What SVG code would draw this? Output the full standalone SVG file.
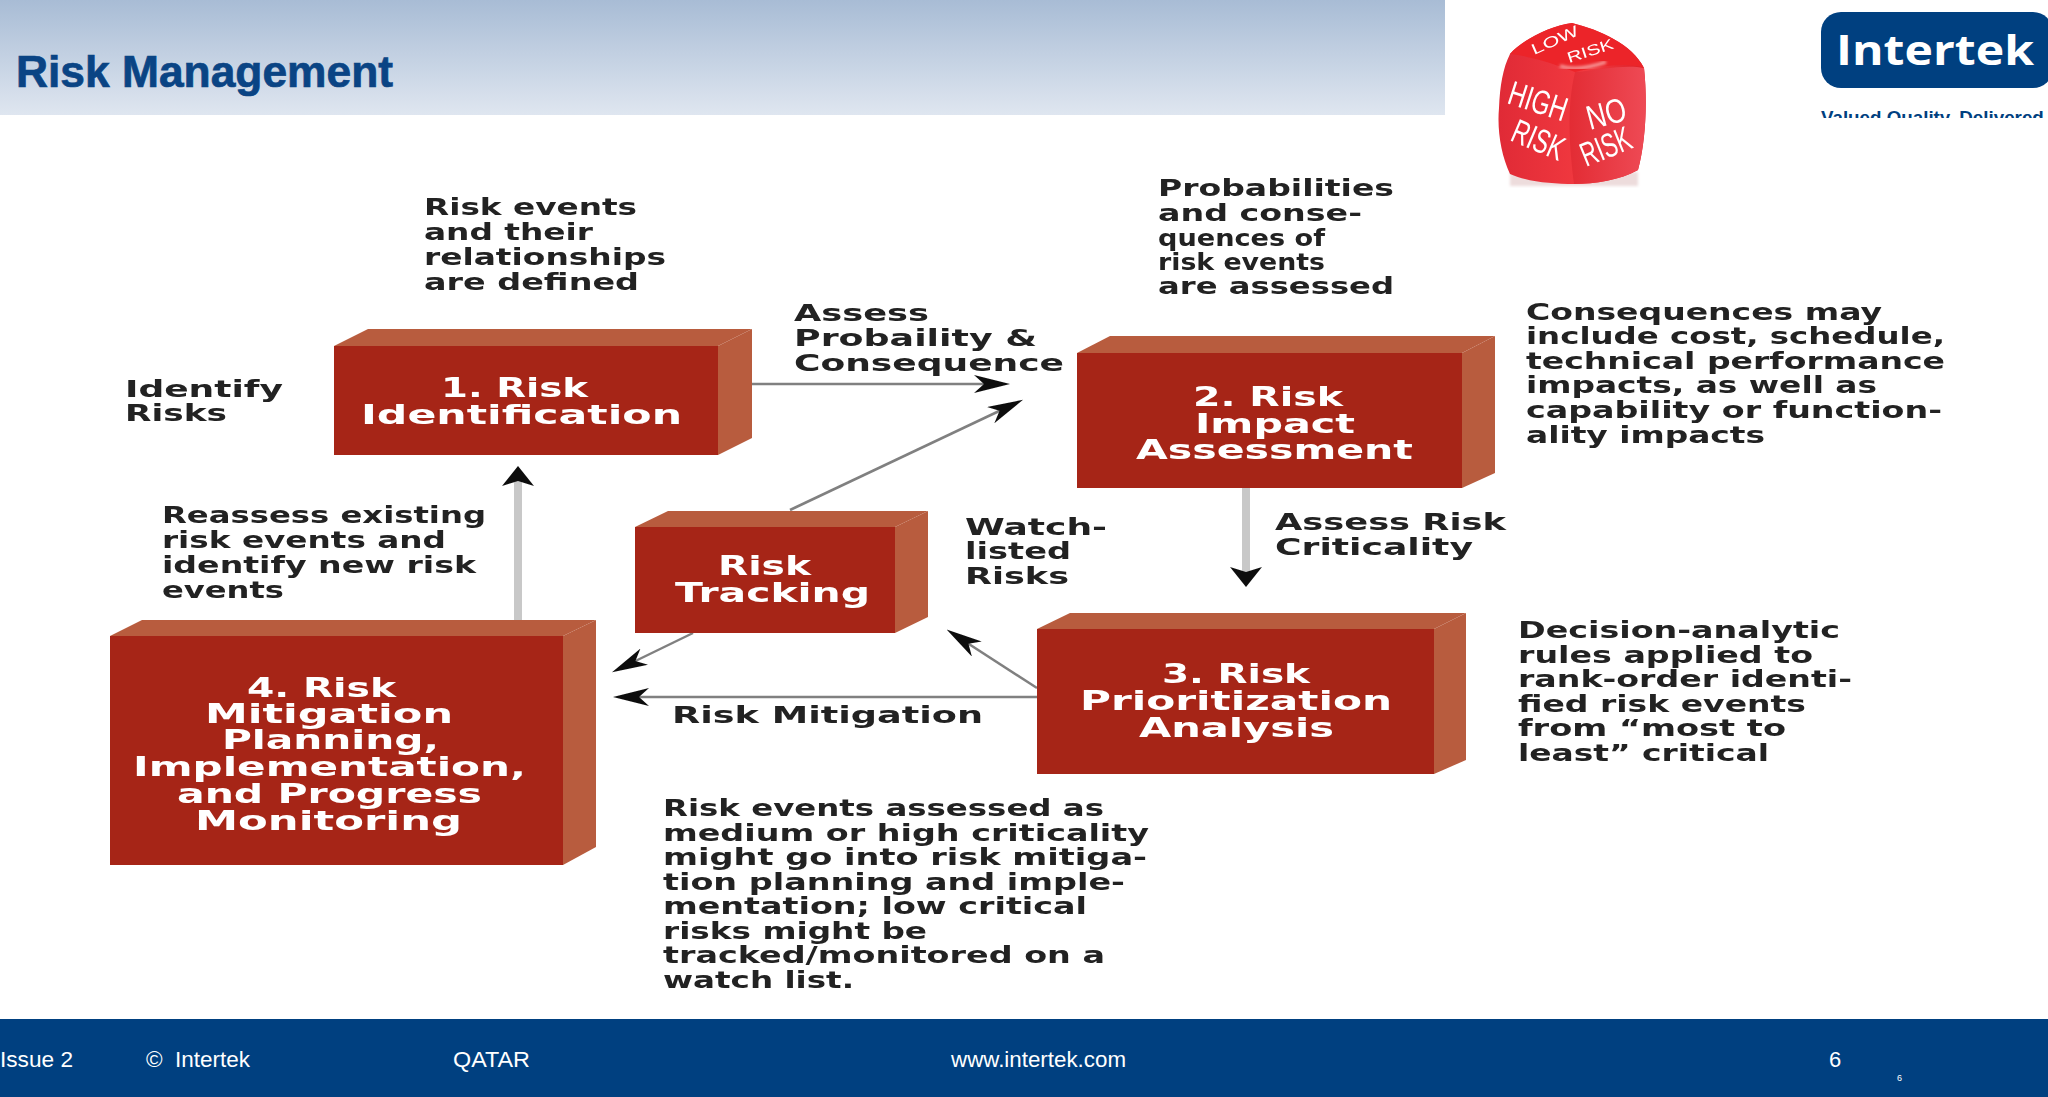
<svg xmlns="http://www.w3.org/2000/svg" width="2048" height="1097" viewBox="0 0 2048 1097">
<style>
.front{fill:#a62517}
.side{fill:#b85c3e}
.lab{font-family:"DejaVu Sans",sans-serif;font-weight:700;font-size:23px;fill:#222}
.box{font-family:"DejaVu Sans",sans-serif;font-weight:700;font-size:26px;fill:#fff}
.foot{font-family:"Liberation Sans",Arial,sans-serif;font-size:22px;fill:#fff}
.thin{fill:none;stroke:#808080;stroke-width:2.5;marker-end:url(#headThin)}
.thick{fill:none;stroke:#c8c8c8;stroke-width:8;marker-end:url(#headThick)}
.dt{font-family:"Liberation Sans",Arial,sans-serif;fill:#fff}
</style>
<defs>
<linearGradient id="hdr" x1="0" y1="0" x2="0" y2="1"><stop offset="0" stop-color="#a8bcd5"/><stop offset="1" stop-color="#dfe6f0"/></linearGradient>
<linearGradient id="dL" x1="0" y1="0" x2="1" y2="0"><stop offset="0" stop-color="#e02a36"/><stop offset="0.6" stop-color="#f23a40"/><stop offset="1" stop-color="#dc2028"/></linearGradient>
<linearGradient id="dR" x1="0" y1="0" x2="1" y2="0"><stop offset="0" stop-color="#e32c34"/><stop offset="1" stop-color="#ee4a55"/></linearGradient>
<filter id="soft" x="-5%" y="-5%" width="110%" height="110%"><feGaussianBlur stdDeviation="0.7"/></filter>
<filter id="soft2" x="-10%" y="-10%" width="120%" height="120%"><feGaussianBlur stdDeviation="1.5"/></filter>
<clipPath id="tagClip"><rect x="1815" y="100" width="233" height="18"/></clipPath>
<marker id="headThin" viewBox="0 0 36 18" markerWidth="36" markerHeight="18" markerUnits="userSpaceOnUse" refX="26" refY="9" orient="auto"><polygon points="0,0 36,9 0,18 10,9" fill="#111"/></marker>
<marker id="headThick" viewBox="0 0 20 32" markerWidth="20" markerHeight="32" markerUnits="userSpaceOnUse" refX="8" refY="16" orient="auto"><polygon points="0,0 20,16 0,32 5,16" fill="#111"/></marker>
</defs>
<rect width="2048" height="1097" fill="#fff"/>

<g id="header">
<rect x="0" y="0" width="1445" height="115" fill="url(#hdr)"/>
<text x="16" y="87" font-family="Liberation Sans,Arial,sans-serif" font-weight="700" font-size="44" fill="#0a4484" stroke="#0a4484" stroke-width="0.7" textLength="377" lengthAdjust="spacingAndGlyphs">Risk Management</text>
</g>

<g id="dice">
<rect x="1510" y="172" width="128" height="14" fill="#eddcdc" filter="url(#soft2)"/>
<path d="M1572 23 C1600 30 1632 44 1644 68 C1648 105 1645 145 1638 170 C1620 180 1595 184 1574 184 C1552 184 1528 182 1510 174 C1501 155 1497 130 1499 108 C1500 85 1503 68 1510 54 C1522 40 1550 26 1572 23Z" fill="url(#dL)"/>
<path d="M1575 72 C1600 70 1625 64 1644 68 C1648 105 1645 145 1638 170 C1620 180 1595 184 1574 184 C1570 150 1566 110 1575 72Z" fill="url(#dR)"/>
<path d="M1510 54 C1522 40 1550 26 1572 23 C1600 30 1632 44 1644 68 C1625 62 1600 66 1575 72 C1555 64 1530 56 1510 54Z" fill="#ec2429"/>
<path d="M1560 66 Q1578 72 1606 62" fill="none" stroke="#f7a0a0" stroke-width="3" filter="url(#soft2)"/>
<g filter="url(#soft)">
<text class="dt" font-size="15" transform="translate(1534 55) rotate(-24)" textLength="50" lengthAdjust="spacingAndGlyphs">LOW</text>
<text class="dt" font-size="15" transform="translate(1569 63) rotate(-18)" textLength="48" lengthAdjust="spacingAndGlyphs">RISK</text>
<text class="dt" font-size="34" transform="translate(1506 103) rotate(18)" textLength="60" lengthAdjust="spacingAndGlyphs">HIGH</text>
<text class="dt" font-size="34" transform="translate(1509 140) rotate(23)" textLength="54" lengthAdjust="spacingAndGlyphs">RISK</text>
<text class="dt" font-size="34" transform="translate(1590 130) rotate(-15)" textLength="40" lengthAdjust="spacingAndGlyphs">NO</text>
<text class="dt" font-size="34" transform="translate(1586 167) rotate(-22)" textLength="52" lengthAdjust="spacingAndGlyphs">RISK</text>
</g>
</g>

<g id="logo">
<rect x="1821" y="12" width="232" height="76" rx="20" fill="#004080"/>
<text x="1836" y="65" font-family="Open Sans,sans-serif" font-weight="700" font-size="41" fill="#fff" textLength="198" lengthAdjust="spacingAndGlyphs">Intertek</text>
<g clip-path="url(#tagClip)"><text x="1821" y="124" font-family="Liberation Sans,Arial,sans-serif" font-weight="700" font-size="19" fill="#004080" textLength="228" lengthAdjust="spacingAndGlyphs">Valued Quality. Delivered.</text></g>
</g>

<g id="connectors" filter="url(#soft)">
<line class="thin" x1="752" y1="384" x2="1000" y2="384"/>
<line class="thin" x1="790" y1="510" x2="1014" y2="404"/>
<line class="thin" x1="1037" y1="697" x2="623" y2="697"/>
<line class="thin" x1="1037" y1="688" x2="955" y2="635"/>
<line class="thin" x1="693" y1="633" x2="621" y2="668"/>
<line class="thick" x1="1246" y1="488" x2="1246" y2="575"/>
<line class="thick" x1="518" y1="620" x2="518" y2="478"/>
</g>

<g id="node1">
<polygon class="side" points="334,346 368,329 752,329 718,346"/><polygon class="side" points="718,346 752,329 752,438 718,455"/><rect class="front" x="334" y="346" width="384" height="109"/>
<g filter="url(#soft)"><text class="box" x="441" y="397" textLength="147" lengthAdjust="spacingAndGlyphs">1. Risk</text>
<text class="box" x="361" y="424" textLength="321" lengthAdjust="spacingAndGlyphs">Identification</text></g>
</g>
<g id="node2">
<polygon class="side" points="1077,353 1110,336 1495,336 1462,353"/><polygon class="side" points="1462,353 1495,336 1495,473 1462,488"/><rect class="front" x="1077" y="353" width="385" height="135"/>
<g filter="url(#soft)"><text class="box" x="1193" y="406" textLength="150" lengthAdjust="spacingAndGlyphs">2. Risk</text>
<text class="box" x="1195" y="433" textLength="160" lengthAdjust="spacingAndGlyphs">Impact</text>
<text class="box" x="1136" y="459" textLength="277" lengthAdjust="spacingAndGlyphs">Assessment</text></g>
</g>
<g id="node3">
<polygon class="side" points="1037,629 1070,613 1466,613 1434,629"/><polygon class="side" points="1434,629 1466,613 1466,760 1434,774"/><rect class="front" x="1037" y="629" width="397" height="145"/>
<g filter="url(#soft)"><text class="box" x="1162" y="683" textLength="148" lengthAdjust="spacingAndGlyphs">3. Risk</text>
<text class="box" x="1080" y="710" textLength="312" lengthAdjust="spacingAndGlyphs">Prioritization</text>
<text class="box" x="1139" y="737" textLength="195" lengthAdjust="spacingAndGlyphs">Analysis</text></g>
</g>
<g id="node4">
<polygon class="side" points="110,636 142,620 596,620 563,636"/><polygon class="side" points="563,636 596,620 596,847 563,865"/><rect class="front" x="110" y="636" width="453" height="229"/>
<g filter="url(#soft)"><text class="box" x="247" y="697" textLength="149" lengthAdjust="spacingAndGlyphs">4. Risk</text>
<text class="box" x="205" y="723" textLength="248" lengthAdjust="spacingAndGlyphs">Mitigation</text>
<text class="box" x="222" y="749" textLength="217" lengthAdjust="spacingAndGlyphs">Planning,</text>
<text class="box" x="133" y="776" textLength="393" lengthAdjust="spacingAndGlyphs">Implementation,</text>
<text class="box" x="177" y="803" textLength="305" lengthAdjust="spacingAndGlyphs">and Progress</text>
<text class="box" x="195" y="830" textLength="267" lengthAdjust="spacingAndGlyphs">Monitoring</text></g>
</g>
<g id="nodeTracking">
<polygon class="side" points="635,527 668,511 928,511 895,527"/><polygon class="side" points="895,527 928,511 928,617 895,633"/><rect class="front" x="635" y="527" width="260" height="106"/>
<g filter="url(#soft)"><text class="box" x="718" y="575" textLength="93" lengthAdjust="spacingAndGlyphs">Risk</text>
<text class="box" x="675" y="602" textLength="195" lengthAdjust="spacingAndGlyphs">Tracking</text></g>
</g>

<g id="labels" filter="url(#soft)">
<text class="lab" x="424" y="215" textLength="213" lengthAdjust="spacingAndGlyphs">Risk events</text>
<text class="lab" x="424" y="240" textLength="169" lengthAdjust="spacingAndGlyphs">and their</text>
<text class="lab" x="424" y="265" textLength="242" lengthAdjust="spacingAndGlyphs">relationships</text>
<text class="lab" x="424" y="290" textLength="215" lengthAdjust="spacingAndGlyphs">are defined</text>

<text class="lab" x="1158" y="196" textLength="236" lengthAdjust="spacingAndGlyphs">Probabilities</text>
<text class="lab" x="1158" y="221" textLength="204" lengthAdjust="spacingAndGlyphs">and conse-</text>
<text class="lab" x="1158" y="246" textLength="167" lengthAdjust="spacingAndGlyphs">quences of</text>
<text class="lab" x="1158" y="270" textLength="167" lengthAdjust="spacingAndGlyphs">risk events</text>
<text class="lab" x="1158" y="294" textLength="236" lengthAdjust="spacingAndGlyphs">are assessed</text>

<text class="lab" x="794" y="321" textLength="135" lengthAdjust="spacingAndGlyphs">Assess</text>
<text class="lab" x="794" y="346" textLength="243" lengthAdjust="spacingAndGlyphs">Probaility &amp;</text>
<text class="lab" x="794" y="371" textLength="270" lengthAdjust="spacingAndGlyphs">Consequence</text>

<text class="lab" x="1526" y="320" textLength="356" lengthAdjust="spacingAndGlyphs">Consequences may</text>
<text class="lab" x="1526" y="344" textLength="419" lengthAdjust="spacingAndGlyphs">include cost, schedule,</text>
<text class="lab" x="1526" y="369" textLength="419" lengthAdjust="spacingAndGlyphs">technical performance</text>
<text class="lab" x="1526" y="393" textLength="351" lengthAdjust="spacingAndGlyphs">impacts, as well as</text>
<text class="lab" x="1526" y="418" textLength="416" lengthAdjust="spacingAndGlyphs">capability or function-</text>
<text class="lab" x="1526" y="443" textLength="239" lengthAdjust="spacingAndGlyphs">ality impacts</text>

<text class="lab" x="125" y="397" textLength="158" lengthAdjust="spacingAndGlyphs">Identify</text>
<text class="lab" x="125" y="421" textLength="102" lengthAdjust="spacingAndGlyphs">Risks</text>

<text class="lab" x="162" y="523" textLength="324" lengthAdjust="spacingAndGlyphs">Reassess existing</text>
<text class="lab" x="162" y="548" textLength="284" lengthAdjust="spacingAndGlyphs">risk events and</text>
<text class="lab" x="162" y="573" textLength="314" lengthAdjust="spacingAndGlyphs">identify new risk</text>
<text class="lab" x="162" y="598" textLength="122" lengthAdjust="spacingAndGlyphs">events</text>

<text class="lab" x="965" y="535" textLength="142" lengthAdjust="spacingAndGlyphs">Watch-</text>
<text class="lab" x="965" y="559" textLength="106" lengthAdjust="spacingAndGlyphs">listed</text>
<text class="lab" x="965" y="584" textLength="104" lengthAdjust="spacingAndGlyphs">Risks</text>

<text class="lab" x="1275" y="530" textLength="231" lengthAdjust="spacingAndGlyphs">Assess Risk</text>
<text class="lab" x="1275" y="555" textLength="198" lengthAdjust="spacingAndGlyphs">Criticality</text>

<text class="lab" x="672" y="723" textLength="311" lengthAdjust="spacingAndGlyphs">Risk Mitigation</text>

<text class="lab" x="1518" y="638" textLength="322" lengthAdjust="spacingAndGlyphs">Decision-analytic</text>
<text class="lab" x="1518" y="663" textLength="295" lengthAdjust="spacingAndGlyphs">rules applied to</text>
<text class="lab" x="1518" y="687" textLength="334" lengthAdjust="spacingAndGlyphs">rank-order identi-</text>
<text class="lab" x="1518" y="712" textLength="288" lengthAdjust="spacingAndGlyphs">fied risk events</text>
<text class="lab" x="1518" y="736" textLength="268" lengthAdjust="spacingAndGlyphs">from “most to</text>
<text class="lab" x="1518" y="761" textLength="251" lengthAdjust="spacingAndGlyphs">least” critical</text>

<text class="lab" x="663" y="816" textLength="441" lengthAdjust="spacingAndGlyphs">Risk events assessed as</text>
<text class="lab" x="663" y="841" textLength="486" lengthAdjust="spacingAndGlyphs">medium or high criticality</text>
<text class="lab" x="663" y="865" textLength="484" lengthAdjust="spacingAndGlyphs">might go into risk mitiga-</text>
<text class="lab" x="663" y="890" textLength="462" lengthAdjust="spacingAndGlyphs">tion planning and imple-</text>
<text class="lab" x="663" y="914" textLength="424" lengthAdjust="spacingAndGlyphs">mentation; low critical</text>
<text class="lab" x="663" y="939" textLength="264" lengthAdjust="spacingAndGlyphs">risks might be</text>
<text class="lab" x="663" y="963" textLength="442" lengthAdjust="spacingAndGlyphs">tracked/monitored on a</text>
<text class="lab" x="663" y="988" textLength="191" lengthAdjust="spacingAndGlyphs">watch list.</text>
</g>

<g id="footer">
<rect x="0" y="1019" width="2048" height="78" fill="#004080"/>
<text class="foot" x="0" y="1067" textLength="73" lengthAdjust="spacingAndGlyphs">Issue 2</text>
<text class="foot" x="146" y="1067" xml:space="preserve" textLength="104" lengthAdjust="spacingAndGlyphs">©  Intertek</text>
<text class="foot" x="453" y="1067" textLength="77" lengthAdjust="spacingAndGlyphs">QATAR</text>
<text class="foot" x="951" y="1067" textLength="175" lengthAdjust="spacingAndGlyphs">www.intertek.com</text>
<text class="foot" x="1829" y="1067">6</text>
<text class="foot" x="1897" y="1081" style="font-size:9px">6</text>
</g>
</svg>
